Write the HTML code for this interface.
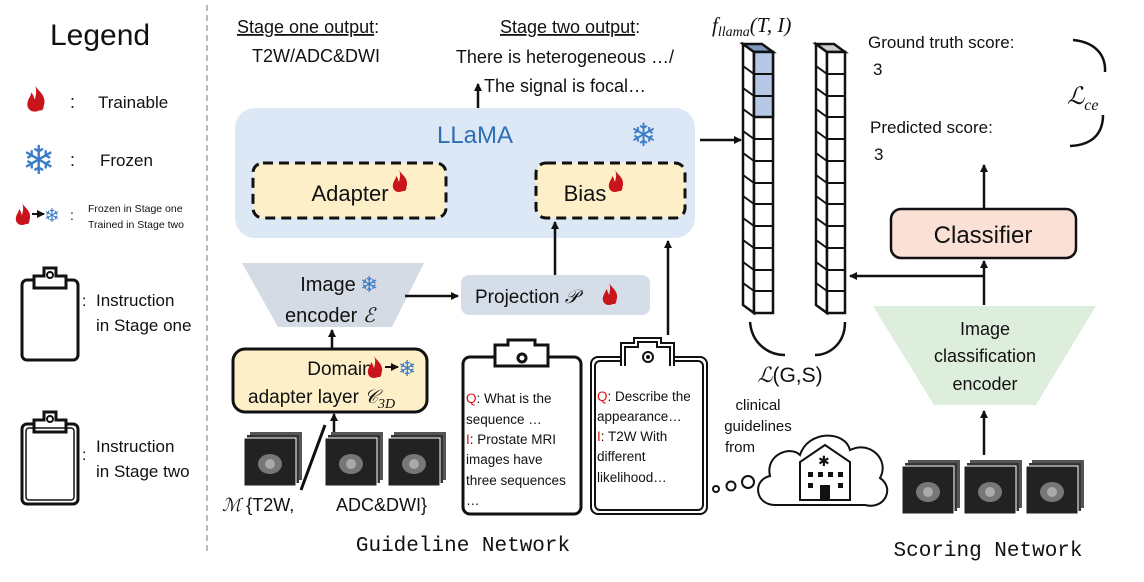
<!DOCTYPE html>
<html><head><meta charset="utf-8"><style>
body{margin:0;background:#fff}
svg{display:block}
text{font-family:"Liberation Sans",sans-serif;fill:#111}
.s{fill:#3b7cc6;font-family:"DejaVu Sans",sans-serif;font-weight:bold}
.m{font-family:"Liberation Mono","DejaVu Sans Mono",monospace}
.i{font-family:"Liberation Serif",serif;font-style:italic}
</style></head><body>
<svg width="1144" height="582" viewBox="0 0 1144 582" xmlns="http://www.w3.org/2000/svg">
<defs>
<marker id="a" markerWidth="8" markerHeight="8" refX="7" refY="4" orient="auto" markerUnits="userSpaceOnUse"><path d="M0,0 L8,4 L0,8 z" fill="#111"/></marker>
<g id="fl"><path d="M6,0 C9,5 15,8 14,15 C13,20 9,22 6,22 C2,22 -1,19 0,14 C1,10 3,9 3,6 C5,8 5,10 6,12 C7,8 8,4 6,0 z M12,12 C14,15 14,19 12,21 L10,21 C12,18 12,15 12,12z" fill="#c8141a"/></g>
<g id="clip"><rect x="0" y="14" width="56" height="80" rx="5" fill="#fff" stroke="#111" stroke-width="3"/><path d="M12,22 V10 H22 V2 H34 V10 H44 V22 z" fill="#fff" stroke="#111" stroke-width="3"/><circle cx="28" cy="9" r="3" fill="none" stroke="#111" stroke-width="2"/></g>
<g id="mri"><rect x="6" y="0" width="52" height="48" fill="#555"/><rect x="3" y="3" width="52" height="48" fill="#333"/><rect x="0" y="6" width="52" height="48" fill="#222" stroke="#fff" stroke-width="1"/><ellipse cx="26" cy="32" rx="12" ry="10" fill="#777"/><ellipse cx="26" cy="32" rx="5" ry="5" fill="#aaa"/></g>
</defs>

<!-- Legend -->
<text x="50" y="45" font-size="30">Legend</text>
<use href="#fl" x="28" y="86" transform="translate(-6,-18) scale(1.2)" />
<text x="70" y="108" font-size="18">:</text><text x="98" y="108" font-size="17">Trainable</text>
<text x="22" y="174" font-size="40" class="s">❄</text>
<text x="70" y="166" font-size="18">:</text><text x="100" y="166" font-size="17">Frozen</text>
<use href="#fl" x="16" y="203"/>
<line x1="32" y1="214" x2="44" y2="214" stroke="#111" stroke-width="2" marker-end="url(#a)"/>
<text x="44" y="222" font-size="19" class="s">❄</text>
<text x="70" y="220" font-size="14">:</text>
<text x="88" y="212" font-size="10.5">Frozen in Stage one</text>
<text x="88" y="228" font-size="10.5">Trained in Stage two</text>
<use href="#clip" x="22" y="266"/>
<text x="82" y="306" font-size="16">:</text>
<text x="96" y="306" font-size="17">Instruction</text><text x="96" y="331" font-size="17">in Stage one</text>
<use href="#clip" x="22" y="410"/>
<rect x="26" y="428" width="48" height="72" rx="3" fill="none" stroke="#111" stroke-width="1.5"/>
<text x="82" y="460" font-size="16">:</text>
<text x="96" y="452" font-size="17">Instruction</text><text x="96" y="477" font-size="17">in Stage two</text>
<line x1="207" y1="5" x2="207" y2="552" stroke="#bbb" stroke-width="2" stroke-dasharray="6,4"/>

<!-- outputs -->
<text x="237" y="33" font-size="18"><tspan text-decoration="underline">Stage one output</tspan>:</text>
<text x="316" y="62" font-size="18" text-anchor="middle">T2W/ADC&amp;DWI</text>
<text x="500" y="33" font-size="18"><tspan text-decoration="underline">Stage two output</tspan>:</text>
<text x="565" y="63" font-size="18" text-anchor="middle">There is heterogeneous …/</text>
<text x="565" y="92" font-size="18" text-anchor="middle">The signal is focal…</text>
<line x1="478" y1="108" x2="478" y2="84" stroke="#111" stroke-width="2.5" marker-end="url(#a)"/>

<!-- LLaMA -->
<rect x="235" y="108" width="460" height="130" rx="20" fill="#dce8f5"/>
<text x="475" y="143" font-size="24" text-anchor="middle" style="fill:#2f6db5">LLaMA</text>
<text x="630" y="146" font-size="32" class="s">❄</text>
<rect x="253" y="163" width="193" height="55" rx="10" fill="#fdf0c8" stroke="#111" stroke-width="3" stroke-dasharray="10,6"/>
<text x="350" y="201" font-size="22" text-anchor="middle">Adapter</text>
<use href="#fl" x="393" y="170"/>
<rect x="536" y="163" width="149" height="55" rx="10" fill="#fdf0c8" stroke="#111" stroke-width="3" stroke-dasharray="10,6"/>
<text x="585" y="201" font-size="22" text-anchor="middle">Bias</text>
<use href="#fl" x="609" y="170"/>
<line x1="700" y1="140" x2="741" y2="140" stroke="#111" stroke-width="2.5" marker-end="url(#a)"/>

<!-- encoder / projection -->
<polygon points="242,263 424,263 392,327 278,327" fill="#d5dbe5"/>
<text x="328" y="291" font-size="20" text-anchor="middle">Image</text>
<text x="360" y="292" font-size="22" class="s">❄</text>
<text x="330" y="322" font-size="20" text-anchor="middle">encoder <tspan class="i">ℰ</tspan></text>
<line x1="405" y1="296" x2="458" y2="296" stroke="#111" stroke-width="2.5" marker-end="url(#a)"/>
<rect x="461" y="275" width="189" height="40" rx="8" fill="#d5dde8"/>
<text x="475" y="303" font-size="19">Projection <tspan class="i">𝒫</tspan></text>
<use href="#fl" x="603" y="283"/>
<line x1="555" y1="275" x2="555" y2="222" stroke="#111" stroke-width="2.5" marker-end="url(#a)"/>
<line x1="668" y1="335" x2="668" y2="241" stroke="#111" stroke-width="2.5" marker-end="url(#a)"/>

<!-- domain adapter -->
<rect x="233" y="349" width="194" height="63" rx="12" fill="#fdf0c8" stroke="#111" stroke-width="3"/>
<text x="340" y="375" font-size="19" text-anchor="middle">Domain</text>
<use href="#fl" x="368" y="356"/>
<line x1="385" y1="367" x2="398" y2="367" stroke="#111" stroke-width="2" marker-end="url(#a)"/>
<text x="398" y="376" font-size="22" class="s">❄</text>
<text x="248" y="403" font-size="19">adapter layer <tspan class="i">𝒞</tspan><tspan class="i" font-size="14" dy="5">3D</tspan></text>
<line x1="332" y1="349" x2="332" y2="330" stroke="#111" stroke-width="2.5" marker-end="url(#a)"/>
<line x1="334" y1="432" x2="334" y2="414" stroke="#111" stroke-width="2.5" marker-end="url(#a)"/>
<use href="#mri" x="244" y="432"/>
<use href="#mri" x="325" y="432"/>
<use href="#mri" x="388" y="432"/>
<line x1="325" y1="425" x2="301" y2="490" stroke="#111" stroke-width="3"/>
<text x="222" y="511" font-size="18"><tspan class="i">ℳ</tspan> {T2W,</text>
<text x="336" y="511" font-size="18">ADC&amp;DWI}</text>
<text x="463" y="551" font-size="21" text-anchor="middle" class="m">Guideline Network</text>

<!-- clipboards -->
<rect x="463" y="357" width="118" height="157" rx="7" fill="#fff" stroke="#111" stroke-width="3"/>
<path d="M495,366 V345 H508 V340 H535 V345 H548 V366 z" fill="#fff" stroke="#111" stroke-width="3"/>
<circle cx="522" cy="358" r="4" fill="none" stroke="#111" stroke-width="3"/>
<g font-size="13.5">
<text x="466" y="403"><tspan fill="#e01010">Q</tspan>: What is the</text>
<text x="466" y="424">sequence …</text>
<text x="466" y="444"><tspan fill="#e01010">I</tspan>: Prostate MRI</text>
<text x="466" y="464">images have</text>
<text x="466" y="485">three sequences</text>
<text x="466" y="505">…</text>
</g>
<rect x="591" y="357" width="116" height="157" rx="7" fill="#fff" stroke="#111" stroke-width="2"/>
<rect x="595" y="361" width="108" height="149" rx="5" fill="none" stroke="#111" stroke-width="2"/>
<path d="M621,366 V343 H634 V338 H661 V343 H674 V366" fill="#fff" stroke="#111" stroke-width="2"/>
<path d="M625,366 V347 H638 V342 H657 V347 H670 V366" fill="none" stroke="#111" stroke-width="2"/>
<circle cx="648" cy="357" r="5" fill="none" stroke="#111" stroke-width="2"/><circle cx="648" cy="357" r="2" fill="#111"/>
<g font-size="13.5">
<text x="597" y="401"><tspan fill="#e01010">Q</tspan>: Describe the</text>
<text x="597" y="421">appearance…</text>
<text x="597" y="441"><tspan fill="#e01010">I</tspan>: T2W With</text>
<text x="597" y="461">different</text>
<text x="597" y="482">likelihood…</text>
</g>

<!-- clinical -->
<text x="758" y="410" font-size="15" text-anchor="middle">clinical</text>
<text x="758" y="431" font-size="15" text-anchor="middle">guidelines</text>
<text x="740" y="452" font-size="15" text-anchor="middle">from</text>
<circle cx="716" cy="489" r="3" fill="none" stroke="#111" stroke-width="2"/>
<circle cx="731" cy="486" r="4.5" fill="none" stroke="#111" stroke-width="2"/>
<circle cx="748" cy="482" r="6" fill="none" stroke="#111" stroke-width="2"/>
<path d="M775,505 C755,505 752,480 770,476 C765,455 790,445 800,455 C808,430 845,430 850,450 C870,440 890,460 880,478 C895,488 885,510 865,505 z" fill="#fff" stroke="#111" stroke-width="2"/>
<path d="M800,500 V462 L825,445 L850,462 V500 z" fill="none" stroke="#111" stroke-width="2"/>
<text x="818" y="466" font-size="14">✱</text>
<g fill="#111"><rect x="808" y="472" width="5" height="5"/><rect x="818" y="472" width="5" height="5"/><rect x="828" y="472" width="5" height="5"/><rect x="838" y="472" width="5" height="5"/><rect x="808" y="483" width="5" height="5"/><rect x="838" y="483" width="5" height="5"/><rect x="820" y="485" width="10" height="15"/></g>

<!-- columns -->
<g stroke="#111" stroke-width="2.5">
<polygon points="743,44 754,52 754,313 743,305" fill="#fff"/>
<polygon points="743,44 762,44 773,52 754,52" fill="#7f97bf"/>
<rect x="754" y="52" width="19" height="261" fill="#fff"/>
<rect x="754" y="52" width="19" height="65" fill="#b7c8e6"/>
<polygon points="816,44 827,52 827,313 816,305" fill="#fff"/>
<polygon points="816,44 834,44 845,52 827,52" fill="#ccc"/>
<rect x="827" y="52" width="18" height="261" fill="#fff"/>
</g>
<g stroke="#111" stroke-width="2">
<path d="M754,74 H773 M754,96 H773 M754,117 H773 M754,139 H773 M754,161 H773 M754,183 H773 M754,204 H773 M754,226 H773 M754,248 H773 M754,270 H773 M754,291 H773"/>
<path d="M743,66 L754,74 M743,88 L754,96 M743,109 L754,117 M743,131 L754,139 M743,153 L754,161 M743,175 L754,183 M743,196 L754,204 M743,218 L754,226 M743,240 L754,248 M743,262 L754,270 M743,283 L754,291"/>
<path d="M827,74 H845 M827,96 H845 M827,117 H845 M827,139 H845 M827,161 H845 M827,183 H845 M827,204 H845 M827,226 H845 M827,248 H845 M827,270 H845 M827,291 H845"/>
<path d="M816,66 L827,74 M816,88 L827,96 M816,109 L827,117 M816,131 L827,139 M816,153 L827,161 M816,175 L827,183 M816,196 L827,204 M816,218 L827,226 M816,240 L827,248 M816,262 L827,270 M816,283 L827,291"/>
</g>
<text x="712" y="32" font-size="21" class="i">f<tspan font-size="14" dy="4">llama</tspan><tspan dy="-4">(T, I)</tspan></text>
<path d="M750,322 C752,345 770,355 785,355" fill="none" stroke="#111" stroke-width="2.5"/>
<path d="M845,322 C845,345 828,355 815,355" fill="none" stroke="#111" stroke-width="2.5"/>
<text x="790" y="382" font-size="21" text-anchor="middle"><tspan class="i">ℒ</tspan>(G,S)</text>

<!-- right -->
<text x="868" y="48" font-size="17">Ground truth score:</text>
<text x="873" y="75" font-size="17">3</text>
<text x="870" y="133" font-size="17">Predicted score:</text>
<text x="874" y="160" font-size="17">3</text>
<path d="M1073,40 C1095,42 1106,55 1105,72" fill="none" stroke="#111" stroke-width="2.5"/>
<path d="M1103,115 C1103,133 1093,145 1070,146" fill="none" stroke="#111" stroke-width="2.5"/>
<text x="1067" y="104" font-size="24" class="i">ℒ<tspan font-size="16" dy="6">ce</tspan></text>
<line x1="984" y1="208" x2="984" y2="165" stroke="#111" stroke-width="2.5" marker-end="url(#a)"/>
<rect x="891" y="209" width="185" height="49" rx="10" fill="#fbe1d5" stroke="#111" stroke-width="2.5"/>
<text x="983" y="243" font-size="24" text-anchor="middle">Classifier</text>
<line x1="984" y1="305" x2="984" y2="261" stroke="#111" stroke-width="2.5" marker-end="url(#a)"/>
<line x1="984" y1="276" x2="850" y2="276" stroke="#111" stroke-width="2.5" marker-end="url(#a)"/>
<polygon points="873,306 1096,306 1036,405 934,405" fill="#deeedd"/>
<text x="985" y="335" font-size="18" text-anchor="middle">Image</text>
<text x="985" y="362" font-size="18" text-anchor="middle">classification</text>
<text x="985" y="390" font-size="18" text-anchor="middle">encoder</text>
<line x1="984" y1="455" x2="984" y2="411" stroke="#111" stroke-width="2.5" marker-end="url(#a)"/>
<use href="#mri" x="902" y="460"/>
<use href="#mri" x="964" y="460"/>
<use href="#mri" x="1026" y="460"/>
<text x="988" y="556" font-size="21" text-anchor="middle" class="m">Scoring Network</text>
</svg>
</body></html>
